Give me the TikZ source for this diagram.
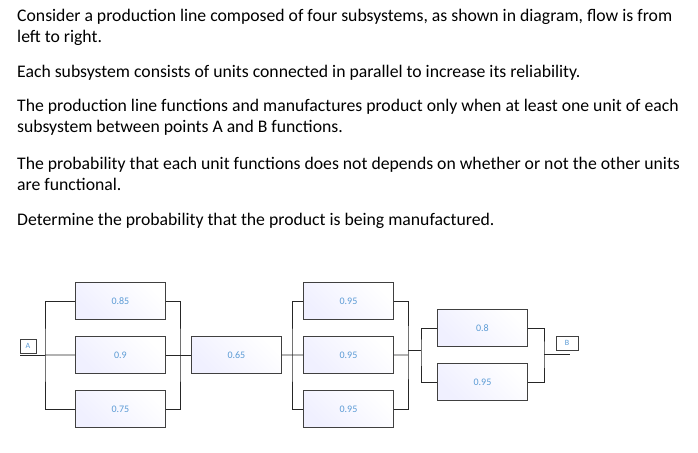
\documentclass[tikz,border=0pt]{standalone}
\usepackage{fontspec}
\setmainfont{Carlito}
\definecolor{lbl}{HTML}{5B9BD5}
\begin{document}
\begin{tikzpicture}[x=1pt,y=-1pt,
  unit/.style={draw=black!75,line width=0.9pt,minimum width=90pt,minimum height=37pt,anchor=north west,
     left color=blue!6,right color=white,shading angle=135,font=\fontsize{10}{11}\selectfont,text=lbl,inner sep=0pt},
  term/.style={draw=black!75,line width=0.8pt,minimum width=16pt,minimum height=14pt,font=\fontsize{8}{9}\selectfont,text=lbl,inner sep=0pt},
  wire/.style={line width=0.8pt,black!85},
  para/.style={anchor=north west,align=left,font=\fontsize{17.7}{21}\selectfont,inner sep=0pt}]
\useasboundingbox (0,0) rectangle (698,452);
\node[para] (t1) at (17,9) {Consider a production line composed of four subsystems, as shown in diagram, flow is from\\left to right.};
\node[para] (t2) at (17,65) {Each subsystem consists of units connected in parallel to increase its reliability.};
\node[para] (t3) at (17,99) {The production line functions and manufactures product only when at least one unit of each\\subsystem between points A and B functions.};
\node[para] (t4) at (17,157) {The probability that each unit functions does not depends on whether or not the other units\\are functional.};
\node[para] (t5) at (17,213) {Determine the probability that the product is being manufactured.};
\node[term] (A) at (28,346) {A};
\node[term,minimum width=22pt] (B) at (567,343) {B};
\node[unit] (a1) at (75,282) {0.85};
\node[unit] (a2) at (75,336) {0.9};
\node[unit] (a3) at (75,390) {0.75};
\node[unit] (b) at (191,336) {0.65};
\node[unit] (c1) at (303,282) {0.95};
\node[unit] (c2) at (303,336) {0.95};
\node[unit] (c3) at (303,390) {0.95};
\node[unit] (d1) at (437,309) {0.8};
\node[unit] (d2) at (437,363) {0.95};
\coordinate (p0) at (20,355);
\draw[wire] (p0) -- (45,355);
\draw[wire] (a1.west) -| (45,355) |- (a3.west);
\draw[wire] (45,355) -- (a2.west);
\draw[wire] (a1.east) -| (180,355) |- (a3.east);
\draw[wire] (a2.east) -- (b.west);
\draw[wire] (b.east) -- (292,355);
\draw[wire] (c1.west) -| (292,355) |- (c3.west);
\draw[wire] (292,355) -- (c2.west);
\draw[wire] (c1.east) -| (408,350) |- (c3.east);
\draw[wire] (c2.east) -- (408,355);
\draw[wire] (408,350) -- (421,350);
\draw[wire] (d1.west) -| (421,350) |- (d2.west);
\draw[wire] (d1.east) -| (544,354) |- (d2.east);
\coordinate (p1) at (570,354);
\draw[wire] (544,354) -- (p1);
\end{tikzpicture}
\end{document}
